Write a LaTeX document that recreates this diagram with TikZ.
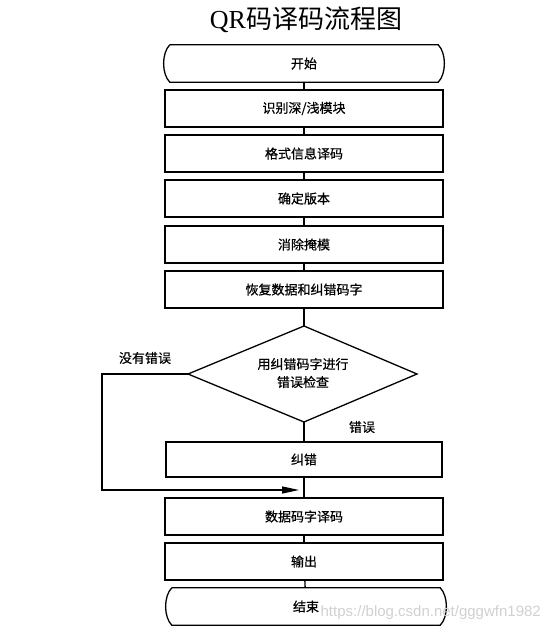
\documentclass[tikz,border=0pt]{standalone}
\usepackage{fontspec}
\setmainfont{Liberation Serif}
\newfontfamily\cjk[FakeBold=0.6]{Noto Sans CJK SC}
\newfontfamily\cjktitle{Noto Sans CJK SC}
\newfontfamily\wmfont{Liberation Sans}
\usetikzlibrary{shapes.geometric,arrows.meta}
\begin{document}
\begin{tikzpicture}[x=1pt,y=-1pt,
  every node/.style={inner sep=0pt},
  flowbox/.style={draw,line width=1.3pt,minimum width=278pt,minimum height=37pt,font=\cjk\fontsize{13}{15}\selectfont},
  termbox/.style={minimum width=268pt,minimum height=37pt,font=\cjk\fontsize{13}{15}\selectfont},
  dectext/.style={align=center,font=\cjk\fontsize{13}{18}\selectfont},
  lbl/.style={font=\cjk\fontsize{13}{15}\selectfont},
  conn/.style={line width=1.3pt}]
\useasboundingbox (0,0) rectangle (545,632);
\fill[white] (0,0) rectangle (545,632);
\node (title) at (306,20) {\fontsize{26}{28}\selectfont QR{\cjktitle 码译码流程图}};
\node[termbox] (s) at (304,63.5) {开始};
\node[flowbox] (b1) at (304,108.5) {识别深/浅模块};
\node[flowbox] (b2) at (304,153.5) {格式信息译码};
\node[flowbox] (b3) at (304,198.5) {确定版本};
\node[flowbox] (b4) at (304,244.5) {消除掩模};
\node[flowbox] (b5) at (304,289.5) {恢复数据和纠错码字};
\node[dectext] (d) at (303,373) {用纠错码字进行\\错误检查};
\coordinate (dt) at (304,326);
\coordinate (db) at (304,422);
\coordinate (dl) at (188,374);
\coordinate (dr) at (417,374);
\draw[line width=1.3pt,line join=miter] (dt) -- (dr) -- (db) -- (dl) -- cycle;
\node[flowbox,minimum width=276pt,minimum height=35pt] (b6) at (304,459.5) {纠错};
\node[flowbox] (b7) at (304,516.5) {数据码字译码};
\node[flowbox] (b8) at (304,561.5) {输出};
\node[termbox] (e) at (306,606.5) {结束};
\draw[line width=1.3pt] (s.north west) -- (s.north east) to[out=-45,in=45,looseness=0.8] (s.south east) -- (s.south west) to[out=135,in=225,looseness=0.8] (s.north west);
\draw[line width=1.3pt] (e.north west) -- (e.north east) to[out=-45,in=45,looseness=0.8] (e.south east) -- (e.south west) to[out=135,in=225,looseness=0.8] (e.north west);
\draw[conn] (s) -- (b1);
\draw[conn] (b1) -- (b2);
\draw[conn] (b2) -- (b3);
\draw[conn] (b3) -- (b4);
\draw[conn] (b4) -- (b5);
\draw[conn] (b5.south) -- (dt);
\draw[conn] (db) -- (b6.north);
\draw[conn] (b6.south) -- (b7.north);
\draw[conn] (b7) -- (b8);
\draw[conn] (b8) -- (e);
\coordinate (lc) at (102,490);
\coordinate (ae) at (299,490);
\draw[conn,-{Triangle[length=17pt,width=7pt]}] (dl) -| (lc) -- (ae);
\node[lbl] (nl) at (145,358) {没有错误};
\node[lbl] (yl) at (362,427) {错误};
\node[font=\wmfont\fontsize{15}{17}\selectfont,text=black!18,anchor=east] (wm) at (541,613) {https://blog.csdn.net/gggwfn1982};
\end{tikzpicture}
\end{document}
